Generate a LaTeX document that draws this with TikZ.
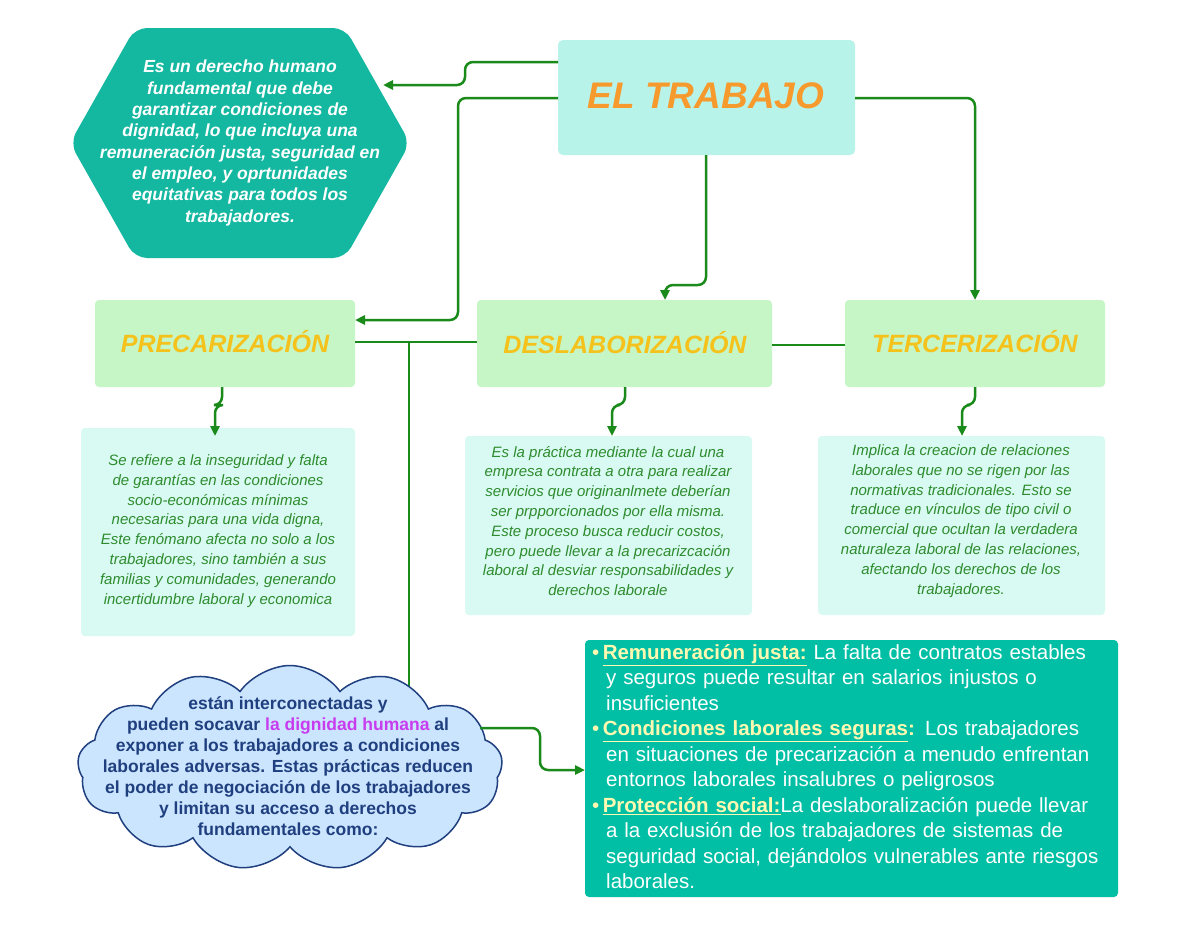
\documentclass[tikz,border=0pt]{standalone}
\usepackage{fontspec}
\setmainfont{Liberation Sans}
\usetikzlibrary{shapes.symbols,arrows.meta}
\definecolor{gr}{HTML}{1A8A1A}
\definecolor{hexc}{HTML}{14B8A0}
\definecolor{topc}{HTML}{B8F3EA}
\definecolor{headc}{HTML}{C6F5C6}
\definecolor{descc}{HTML}{D8FAF2}
\definecolor{yel}{HTML}{F5C21B}
\definecolor{org}{HTML}{F79A2E}
\definecolor{dtxt}{HTML}{2E8B2E}
\definecolor{cloudc}{HTML}{CCE5FF}
\definecolor{cloudb}{HTML}{1F3F7F}
\definecolor{botc}{HTML}{00BFA5}
\definecolor{ulc}{HTML}{FFF8B0}
\definecolor{mag}{HTML}{C83CF0}
\tikzset{
 conn/.style={draw=gr,line width=2.5pt,rounded corners=8pt},
 arr/.style={conn,-{Triangle[length=10pt,width=9pt]}},
 head/.style={font=\fontsize{25}{30}\selectfont\bfseries\itshape,text=yel},
 desc/.style={font=\fontsize{15}{19.8}\selectfont\itshape,text=dtxt,align=center},
}
\newcommand{\ul}[1]{\underline{#1}}
\begin{document}
\begin{tikzpicture}[x=1pt,y=-1pt]
\useasboundingbox (0,0) rectangle (1200,927);
\fill[white] (0,0) rectangle (1200,927);
% top
\fill[topc,rounded corners=5pt] (558,40) rectangle (855,155);
\node[font=\fontsize{37}{42}\selectfont\bfseries\itshape,text=org] (top) at (706,96) {EL TRABAJO};
\coordinate (tl1) at (558,62); \coordinate (tl2) at (558,98);
\coordinate (tb) at (706,155); \coordinate (tr) at (855,98);
% hexagon
\fill[hexc,rounded corners=12pt] (70,143)--(135,28)--(345,28)--(410,143)--(345,258)--(135,258)--cycle;
\node[font=\fontsize{17.5}{21.3}\selectfont\bfseries\itshape,text=white,align=center] (hex) at (240,143)
 {Es un derecho humano\\fundamental que debe\\garantizar condiciones de\\dignidad, lo que incluya una\\remuneración justa, seguridad en\\el empleo, y oprtunidades\\equitativas para todos los\\trabajadores.};
\coordinate (hexr) at (383,85);
% headers
\fill[headc,rounded corners=4pt] (95,300) rectangle (355,387);
\node[head] (pre) at (225,342) {PRECARIZACIÓN};
\fill[headc,rounded corners=4pt] (477,300) rectangle (772,387);
\node[head] (des) at (625,343) {DESLABORIZACIÓN};
\fill[headc,rounded corners=4pt] (845,300) rectangle (1105,387);
\node[head] (ter) at (975,342) {TERCERIZACIÓN};
% descs
\fill[descc,rounded corners=4pt] (81,428) rectangle (355,636);
\node[desc] (d1) at (218,531) {Se refiere a la inseguridad y falta\\de garantías en las condiciones\\socio-económicas mínimas\\necesarias para una vida digna,\\Este fenómano afecta no solo a los\\trabajadores, sino también a sus\\familias y comunidades, generando\\incertidumbre laboral y economica};
\fill[descc,rounded corners=4pt] (465,436) rectangle (752,615);
\node[desc] (d2) at (608,521) {Es la práctica mediante la cual una\\empresa contrata a otra para realizar\\servicios que originanlmete deberían\\ser prpporcionados por ella misma.\\Este proceso busca reducir costos,\\pero puede llevar a la precarizcación\\laboral al desviar responsabilidades y\\derechos laborale};
\fill[descc,rounded corners=4pt] (818,436) rectangle (1105,615);
\node[desc] (d3) at (961,521) {Implica la creacion de relaciones\\laborales que no se rigen por las\\normativas tradicionales. Esto se\\traduce en vínculos de tipo civil o\\comercial que ocultan la verdadera\\naturaleza laboral de las relaciones,\\afectando los derechos de los\\trabajadores.};
% connectors under cloud
\coordinate (v1) at (409,342); \coordinate (v2) at (409,705);
\draw[conn] (v1) -- (v2);
% cloud
\node[cloud,cloud puffs=13,cloud puff arc=110,aspect=2.6,fill=cloudc,draw=cloudb,line width=1.5pt,minimum width=425pt,minimum height=205pt,inner sep=0pt] (cl) at (290,768) {};
\node[font=\fontsize{17.5}{21}\selectfont\bfseries,text=cloudb,align=center] (clt) at (288,766)
 {están interconectadas y\\pueden socavar \textcolor{mag}{la dignidad humana} al\\exponer a los trabajadores a condiciones\\laborales adversas. Estas prácticas reducen\\el poder de negociación de los trabajadores\\y limitan su acceso a derechos\\fundamentales como:};
% bottom box
\fill[botc,rounded corners=4pt] (585,640) rectangle (1118,897);
\node[font=\fontsize{20.5}{25.5}\selectfont,text=white,align=left,anchor=north west,text width=525pt,inner sep=0pt] (bot) at (592,644)
 {\textcolor{ulc}{•\,\textbf{\ul{Remuneración justa:}}} La falta de contratos estables\\
 \hspace*{14pt}y seguros puede resultar en salarios injustos o\\
 \hspace*{14pt}insuficientes\\
 \textcolor{ulc}{•\,\textbf{\ul{Condiciones laborales seguras}:}} Los trabajadores\\
 \hspace*{14pt}en situaciones de precarización a menudo enfrentan\\
 \hspace*{14pt}entornos laborales insalubres o peligrosos\\
 \textcolor{ulc}{•\,\textbf{\ul{Protección social:}}}La deslaboralización puede llevar\\
 \hspace*{14pt}a la exclusión de los trabajadores de sistemas de\\
 \hspace*{14pt}seguridad social, dejándolos vulnerables ante riesgos\\
 \hspace*{14pt}laborales.};
% connectors
\coordinate (p1) at (465,62); \coordinate (p2) at (465,85);
\draw[arr] (tl1) -- (p1) -- (p2) -- (hexr);
\coordinate (q1) at (458,98); \coordinate (q2) at (458,320); \coordinate (prtop) at (355,320);
\draw[arr] (tl2) -- (q1) -- (q2) -- (prtop);
\coordinate (r1) at (706,285); \coordinate (r2) at (665,285); \coordinate (destop) at (665,300);
\draw[arr] (tb) -- (r1) -- (r2) -- (destop);
\coordinate (s1) at (975,98); \coordinate (tertop) at (975,300);
\draw[arr] (tr) -- (s1) -- (tertop);
\coordinate (prer) at (355,342); \coordinate (desl) at (477,342);
\draw[conn] (prer) -- (desl);
\coordinate (desr) at (772,345); \coordinate (terl) at (845,345);
\draw[conn] (desr) -- (terl);
\foreach \n/\a/\b in {a/222/215,b/625/612,c/975/962}{
 \coordinate (\n1) at (\a,387); \coordinate (\n2) at (\a,405); \coordinate (\n3) at (\b,405); \coordinate (\n4) at (\b,\ifx\n a428\else436\fi);
 \draw[arr] (\n1) -- (\n2) -- (\n3) -- (\n4);
}
\coordinate (c1) at (480,728); \coordinate (c2) at (540,728); \coordinate (c3) at (540,770); \coordinate (botl) at (585,770);
\draw[arr] (c1) -- (c2) -- (c3) -- (botl);
\end{tikzpicture}
\end{document}
